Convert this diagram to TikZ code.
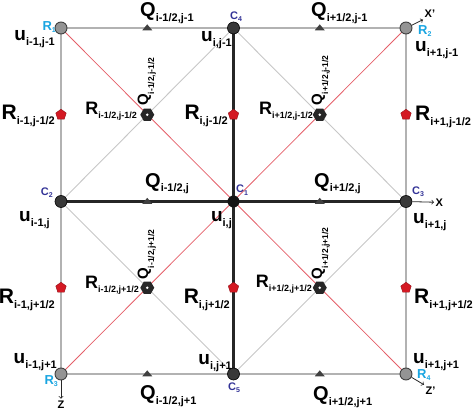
\documentclass[tikz,border=0pt]{standalone}
\usepackage{fontspec}
\setmainfont{Liberation Sans}
\usetikzlibrary{shapes.geometric,calc}

\definecolor{linered}{RGB}{228,95,105}
\definecolor{ptred}{RGB}{212,25,35}
\definecolor{rcyan}{RGB}{25,165,225}
\definecolor{cnavy}{RGB}{50,50,150}

% lowered indices
\newcommand{\lo}[1]{\raisebox{-5pt}{\fontsize{11}{11}\selectfont #1}}
\newcommand{\los}[1]{\raisebox{-4pt}{\fontsize{9}{9}\selectfont #1}}
\newcommand{\lorot}[1]{\raisebox{-6pt}{\fontsize{8.5}{8.5}\selectfont #1}}
\newcommand{\tin}[1]{\raisebox{-2pt}{\fontsize{7}{7}\selectfont #1}}

\begin{document}
\begin{tikzpicture}[x=1pt,y=-1pt,
    frame/.style={draw=black!30,line width=1.3pt},
    diag/.style={draw=black!22,line width=0.9pt},
    redline/.style={draw=linered,line width=0.8pt},
    heavy/.style={draw=black!85,line width=2.6pt},
    corner/.style={circle,draw=black!75,fill=black!42,line width=0.9pt,minimum size=12pt,inner sep=0pt},
    mid/.style={circle,draw=black,fill=black!78,line width=0.6pt,minimum size=12pt,inner sep=0pt},
    cen/.style={circle,fill=black!92,minimum size=12pt,inner sep=0pt},
    hexa/.style={regular polygon,regular polygon sides=6,fill=black!85,minimum size=14pt,inner sep=0pt,
        path picture={\fill[white] (path picture bounding box.center) circle (1.3pt);}},
    penta/.style={regular polygon,regular polygon sides=5,fill=ptred,draw=ptred!70!black,line width=0.4pt,minimum size=11pt,inner sep=0pt},
    tri/.style={isosceles triangle,isosceles triangle apex angle=110,shape border rotate=90,
        isosceles triangle stretches,minimum width=10pt,minimum height=6pt,fill=black!75,inner sep=0pt},
    eR/.style={font=\bfseries\fontsize{21}{21}\selectfont,inner sep=0pt},
    hR/.style={font=\bfseries\fontsize{18}{18}\selectfont,inner sep=0pt},
    uu/.style={font=\bfseries\fontsize{19}{19}\selectfont,inner sep=0pt},
    qq/.style={font=\bfseries\fontsize{20}{20}\selectfont,inner sep=0pt},
    qrot/.style={font=\bfseries\fontsize{15}{15}\selectfont,inner sep=0pt,rotate=90,anchor=base west},
    cl/.style={font=\bfseries\fontsize{11}{11}\selectfont,text=cnavy,inner sep=0pt},
    rl/.style={font=\bfseries\fontsize{13}{13}\selectfont,text=rcyan,inner sep=0pt},
    ax/.style={font=\bfseries\fontsize{11}{11}\selectfont,inner sep=1.5pt},
    axis/.style={->,black!85,line width=0.8pt}]
\useasboundingbox (0,0) rectangle (474,409);

% grid points
\coordinate (r1) at (61,28);
\coordinate (r2) at (406,28);
\coordinate (r3) at (61,374);
\coordinate (r4) at (406,374);
\coordinate (c1) at (233.5,201.5);
\coordinate (c2) at (61,201.5);
\coordinate (c3) at (406,201.5);
\coordinate (c4) at (233.5,28);
\coordinate (c5) at (233.5,374);

% lines
\draw[frame] (r1) -- (r2) -- (r4) -- (r3) -- cycle;
\draw[diag] (c4) -- (c2) -- (c5) -- (c3) -- cycle;
\draw[redline] (r1) -- (r4);
\draw[redline] (r2) -- (r3);
\draw[heavy] (c2) -- (c3);
\draw[heavy] (c4) -- (c5);

% markers
\foreach \a/\b [count=\i] in {r1/c4,c4/r2,c2/c1,c1/c3,r3/c5,c5/r4}
    \node[tri] (t\i) at ($(\a)!0.5!(\b)$) {};
\foreach \a/\b [count=\i] in {r1/c2,c4/c1,r2/c3,c2/r3,c1/c5,c3/r4}
    \node[penta] (p\i) at ($(\a)!0.5!(\b)$) {};
\foreach \a/\b [count=\i] in {r1/c1,r2/c1,r3/c1,r4/c1}
    \node[hexa] (h\i) at ($(\a)!0.5!(\b)$) {};
\foreach \n in {r1,r2,r3,r4}
    \node[corner] (n\n) at (\n) {};
\foreach \n in {c2,c3,c4,c5}
    \node[mid] (n\n) at (\n) {};
\node[cen] (nc1) at (c1) {};

% top row
\node[rl,anchor=base east] (lr1) at (56,31) {R\tin{1}};
\node[uu,anchor=base east] at (55,41) {u\lo{i-1,j-1}};
\node[qq,anchor=base west] at (140,17) {Q\lo{i-1/2,j-1}};
\node[cl,anchor=base west] (lc4) at (230,20) {C\tin{4}};
\node[uu,anchor=base east] at (232,42) {u\lo{i,j-1}};
\node[qq,anchor=base west] at (311,17) {Q\lo{i+1/2,j-1}};
\node[ax,anchor=base west] (xp) at (423,18) {X'};
\node[rl,anchor=base west] (lr2) at (418,35) {R\tin{2}};
\node[uu,anchor=base west] at (415,52) {u\lo{i+1,j-1}};

% second row
\node[eR,anchor=base east] at (55,120) {R\lo{i-1,j-1/2}};
\node[hR,anchor=base east] at (137,115) {R\los{i-1/2,j-1/2}};
\node[qrot] at (148,106) {Q\lorot{i-1/2,j-1/2}};
\node[eR,anchor=base east] at (228,120) {R\lo{i,j-1/2}};
\node[hR,anchor=base east] at (313,115) {R\los{i+1/2,j-1/2}};
\node[qrot] at (322,106) {Q\lorot{i+1/2,j-1/2}};
\node[eR,anchor=base west] at (415,121) {R\lo{i+1,j-1/2}};

% middle row
\node[cl,anchor=base east] (lc2) at (53,195) {C\tin{2}};
\node[uu,anchor=base east] at (50,222) {u\lo{i-1,j}};
\node[qq,anchor=base west] at (145,187) {Q\lo{i-1/2,j}};
\node[cl,anchor=base west] (lc1) at (236,193) {C\tin{1}};
\node[uu,anchor=base east] at (232,222) {u\lo{i,j}};
\node[qq,anchor=base west] at (314,187) {Q\lo{i+1/2,j}};
\node[cl,anchor=base west] (lc3) at (412,194) {C\tin{3}};
\node[ax,anchor=base west] (xx) at (434,206) {X};
\node[uu,anchor=base west] at (413,223) {u\lo{i+1,j}};

% fourth row
\node[eR,anchor=base east] at (55,303) {R\lo{i-1,j+1/2}};
\node[hR,anchor=base east] at (139,288) {R\los{i-1/2,j+1/2}};
\node[qrot] at (148,280) {Q\lorot{i-1/2,j+1/2}};
\node[eR,anchor=base east] at (230,303) {R\lo{i,j+1/2}};
\node[hR,anchor=base east] at (312,287) {R\los{i+1/2,j+1/2}};
\node[qrot] at (322,280) {Q\lorot{i+1/2,j+1/2}};
\node[eR,anchor=base west] at (414,303) {R\lo{i+1,j+1/2}};

% bottom row
\node[uu,anchor=base east] at (57,363) {u\lo{i-1,j+1}};
\node[rl,anchor=base east] (lr3) at (58,384) {R\tin{3}};
\node[ax,anchor=base] (zz) at (61,408) {Z};
\node[qq,anchor=base west] at (140,399) {Q\lo{i-1/2,j+1}};
\node[uu,anchor=base east] at (232,364) {u\lo{i,j+1}};
\node[cl,anchor=base west] (lc5) at (228,390) {C\tin{5}};
\node[qq,anchor=base west] at (313,400) {Q\lo{i+1/2,j+1}};
\node[uu,anchor=base west] at (413,363) {u\lo{i+1,j+1}};
\node[rl,anchor=base west] (lr4) at (417,378) {R\tin{4}};
\node[ax,anchor=base west] (zp) at (424,394) {Z'};

% axes
\draw[axis] (nr2) -- (xp.south west);
\draw[axis] (nc3) -- (xx.west);
\draw[axis] (nr3) -- (zz.north);
\draw[axis] (nr4) -- (zp.north west);

\end{tikzpicture}
\end{document}
